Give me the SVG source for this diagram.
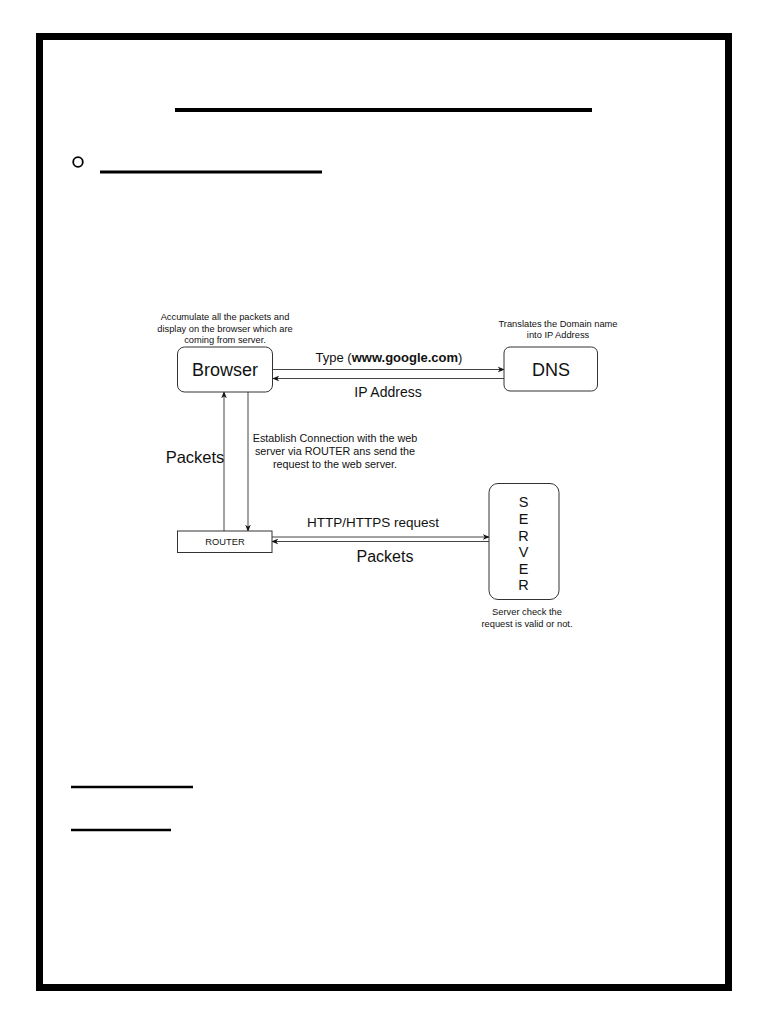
<svg xmlns="http://www.w3.org/2000/svg" width="768" height="1024" viewBox="0 0 768 1024">
<style>
.box{fill:#fff;stroke:#333;stroke-width:1}
.conn{fill:none;stroke:#444;stroke-width:1}
.rule{stroke:#000;fill:none}
text{font-family:"Liberation Sans",Arial,sans-serif;fill:#111}
.small{font-size:9.3px;text-anchor:middle}
.mid{font-size:10.8px;text-anchor:middle}
.lbl{font-size:13px;text-anchor:middle}
.big{font-size:18px;text-anchor:middle}
.let{font-size:14.5px;text-anchor:middle}
</style>
<defs>
<marker id="ah" viewBox="0 0 10 10" refX="9" refY="5" markerWidth="7" markerHeight="7" orient="auto" markerUnits="userSpaceOnUse">
<path d="M0,1 L10,5 L0,9 L3,5 Z" fill="#111"/>
</marker>
</defs>
<rect width="768" height="1024" fill="#fff"/>
<g id="page">
<rect x="39.5" y="36.5" width="689" height="951" class="rule" stroke-width="7"/>
<line x1="175" y1="110" x2="592" y2="110" class="rule" stroke-width="4"/>
<circle cx="78" cy="162" r="4.8" class="rule" stroke-width="1.8"/>
<line x1="100" y1="172" x2="322" y2="172" class="rule" stroke-width="3"/>
<line x1="71" y1="787" x2="193" y2="787" class="rule" stroke-width="2.5"/>
<line x1="71" y1="830" x2="171" y2="830" class="rule" stroke-width="2.5"/>
</g>
<g id="connectors">
<line x1="273" y1="369.5" x2="504" y2="369.5" class="conn" marker-end="url(#ah)"/>
<line x1="504" y1="378.5" x2="273" y2="378.5" class="conn" marker-end="url(#ah)"/>
<line x1="224" y1="531" x2="224" y2="392" class="conn" marker-end="url(#ah)"/>
<line x1="248" y1="392" x2="248" y2="531" class="conn" marker-end="url(#ah)"/>
<line x1="272" y1="537" x2="489" y2="537" class="conn" marker-end="url(#ah)"/>
<line x1="489" y1="541.5" x2="272" y2="541.5" class="conn" stroke-width="1.8" marker-end="url(#ah)"/>
<text x="389" y="362" class="lbl">Type (<tspan font-weight="bold">www.google.com</tspan>)</text>
<text x="388" y="397" font-size="14" text-anchor="middle">IP Address</text>
<text x="195" y="463" font-size="16.5" text-anchor="middle">Packets</text>
<text class="mid" x="335" y="442">Establish Connection with the web</text>
<text class="mid" x="335" y="455">server via ROUTER ans send the</text>
<text class="mid" x="335" y="468">request to the web server.</text>
<text x="373" y="527" font-size="13.5" text-anchor="middle">HTTP/HTTPS request</text>
<text x="385" y="562" font-size="16" text-anchor="middle">Packets</text>
</g>
<g id="browser">
<rect x="177.5" y="347" width="95" height="45" rx="7" class="box"/>
<text x="225" y="376" class="big">Browser</text>
<text class="small" x="225" y="320">Accumulate all the packets and</text>
<text class="small" x="225" y="332">display on the browser which are</text>
<text class="small" x="225" y="343">coming from server.</text>
</g>
<g id="dns">
<rect x="504" y="347" width="93.5" height="44" rx="6" class="box"/>
<text x="551" y="376" class="big">DNS</text>
<text class="small" x="558" y="327">Translates the Domain name</text>
<text class="small" x="558" y="338">into IP Address</text>
</g>
<g id="router">
<rect x="177.5" y="531" width="94.5" height="21.5" class="box"/>
<text x="225" y="545" class="small">ROUTER</text>
</g>
<g id="server">
<rect x="489" y="483.5" width="70" height="116" rx="9" class="box"/>
<text x="523.5" y="506.5" class="let">S</text>
<text x="523.5" y="523.5" class="let">E</text>
<text x="523.5" y="540.5" class="let">R</text>
<text x="523.5" y="557" class="let">V</text>
<text x="523.5" y="573.5" class="let">E</text>
<text x="523.5" y="590" class="let">R</text>
<text class="small" x="527" y="615">Server check the</text>
<text class="small" x="527" y="627">request is valid or not.</text>
</g>
</svg>
